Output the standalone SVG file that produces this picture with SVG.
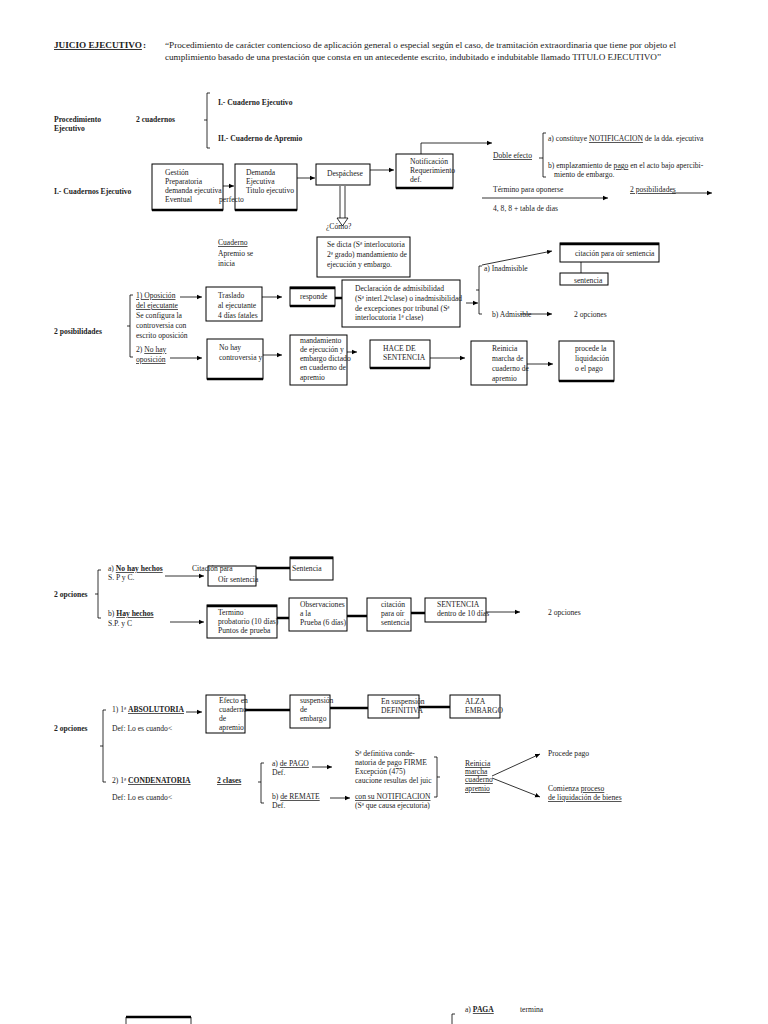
<svg xmlns="http://www.w3.org/2000/svg" width="768" height="1024" viewBox="0 0 768 1024">
<defs>
<marker id="ah" markerWidth="6" markerHeight="6" refX="5" refY="3" orient="auto" markerUnits="userSpaceOnUse"><path d="M0,0.8 L5,3 L0,5.2 z" fill="#000"/></marker>
</defs>
<style>
text{font-family:"Liberation Serif","Times New Roman",serif;font-size:7.6px;fill:#222}
.b{font-weight:bold}
.h{font-size:9.2px}
.u{text-decoration:underline}
.bx{fill:#fff;stroke:#000;stroke-width:1}
.tk{stroke:#000;stroke-width:2.5;fill:none}
.ln{stroke:#000;stroke-width:0.8;fill:none}
.ar{stroke:#000;stroke-width:0.8;fill:none;marker-end:url(#ah)}
</style>
<rect width="768" height="1024" fill="#fff"/>

<g id="header">
<text x="54" y="48" class="b h u">JUICIO EJECUTIVO</text><text x="143" y="48" class="b h">:</text>
<text x="165" y="48" class="h" textLength="511">“Procedimiento de carácter contencioso de aplicación general  o especial según el caso, de tramitación extraordinaria que tiene por objeto el</text>
<text x="165" y="60" class="h" textLength="496">cumplimiento basado de una prestación que consta en un antecedente escrito, indubitado e indubitable llamado TITULO EJECUTIVO”</text>
</g>

<g id="connectors">
<path class="ln" d="M210,93 h-3 v55 h3 M207,120 h-3"/>
<path class="ar" d="M223,186 H234"/>
<path class="ar" d="M297,178 H315"/>
<path class="ar" d="M370,170 H394"/>
<path class="ar" d="M421,154 V143 H492"/>
<path class="ln" d="M546,133 h-3 v44 h3 M543,158 h-4"/>
<path class="ar" d="M482,198 H608"/>
<path class="ar" d="M672,193 H712"/>
<path class="ln" d="M340,186 V219 M345,186 V219"/>
<path d="M337,218 L342.5,226 L348,218 z" fill="#fff" stroke="#000" stroke-width="0.8"/>
<path class="ar" d="M482,265 L552,251"/>
<path class="ln" d="M581,262 V273"/>
<path class="ln" d="M482,266 h-3 v48 h3 M479,290 h-3"/>
<path class="ar" d="M520,314 H552"/>
<path class="ar" d="M466,303 H478"/>
<path class="tk" d="M335,298 H342"/>
<path class="ar" d="M262,297 H282"/>
<path class="ar" d="M180,297 H202"/>
<path class="ln" d="M133,295 h-3 v62 h3 M130,326 h-3"/>
<path class="ar" d="M170,358 H202"/>
<path class="ar" d="M263,355 H282"/>
<path class="ar" d="M347,352 H357"/>
<path class="ar" d="M430,358 H465"/>
<path class="ar" d="M527,364 H553"/>

<path class="ln" d="M101,570 h-3 v48 h3 M98,594 h-3"/>
<path class="ar" d="M165,576 H204"/>
<path class="tk" d="M256,568 H290"/>
<path class="ar" d="M170,622 H204"/>
<path class="tk" d="M277,618 H289 M347,616 H367 M411,613 H425"/>
<path class="ar" d="M486,612 H520"/>

<path class="ln" d="M106,710 h-3 v72 h3 M103,746 h-3"/>
<path class="ar" d="M186,712 H202"/>
<path class="tk" d="M245,710 H290 M330,708 H368 M419,707 H450"/>
<path class="ln" d="M264,763 h-3 v40 h3 M261,782 h-3"/>
<path class="ar" d="M312,767 H332"/>
<path class="ar" d="M330,798 H350"/>
<path class="ln" d="M434,757 h3 v40 h-3 M437,777 h3"/>
<path class="ar" d="M492,776 L540,754"/>
<path class="ar" d="M492,778 L540,797"/>
<path class="ln" d="M455,1014 h-3 v10"/>
</g>

<g id="n-proc">
<text x="54" y="122" class="b">Procedimiento</text><text x="54" y="131" class="b">Ejecutivo</text>
<text x="136" y="122" class="b">2  cuadernos</text>
<text x="218" y="105" class="b">I.- Cuaderno Ejecutivo</text>
<text x="218" y="141" class="b">II.- Cuaderno de Apremio</text>
<text x="54" y="194" class="b">I.- Cuadernos Ejecutivo</text>
</g>

<g id="n-gestion"><rect class="bx" x="152" y="164" width="71" height="46"/><path class="tk" d="M152,210 H223"/>
<text x="165" y="175">Gestión</text><text x="165" y="184">Preparatoria</text><text x="165" y="193">demanda ejecutiva</text><text x="165" y="202">Eventual</text></g>
<g id="n-demanda"><rect class="bx" x="235" y="164" width="62" height="46"/><path class="tk" d="M235,210 H297"/>
<text x="246" y="175">Demanda</text><text x="246" y="184">Ejecutiva</text><text x="246" y="193">Titulo ejecutivo</text><text x="219" y="202">perfecto</text></g>
<g id="n-despachese"><rect class="bx" x="316" y="164" width="54" height="21"/><text x="327" y="176">Despáchese</text></g>
<g id="n-notif"><rect class="bx" x="396" y="154" width="57" height="34"/><path class="tk" d="M396,188 H453"/>
<text x="410" y="164">Notificación</text><text x="410" y="173">Requerimiento</text><text x="410" y="182">def.</text></g>
<g id="n-doble">
<text x="493" y="158" class="u">Doble efecto</text>
<text x="548" y="141">a) constituye <tspan class="u">NOTIFICACION</tspan> de la dda. ejecutiva</text>
<text x="548" y="168">b) emplazamiento de <tspan class="u">pago</tspan> en el acto bajo apercibi-</text>
<text x="554" y="177">miento de embargo.</text>
<text x="493" y="192">Término para oponerse</text>
<text x="630" y="192" class="u">2 posibilidades</text>
<text x="493" y="211">4, 8, 8 +   tabla  de dias</text>
</g>
<g id="n-como"><text x="326" y="229">¿Cómo?</text>
<rect class="bx" x="317" y="237" width="93" height="40"/>
<text x="327" y="247">Se dicta (Sª interlocutoria</text><text x="327" y="257">2ª grado) mandamiento de</text><text x="327" y="267">ejecución y embargo.</text></g>
<g id="n-cuaderno"><text x="218" y="245" class="u">Cuaderno</text><text x="218" y="256">Apremio se</text><text x="218" y="266">inicia</text></g>

<g id="n-citacion"><rect class="bx" x="560" y="243" width="99" height="19"/><path class="tk" d="M560,244 H659"/><text x="575" y="256">citación para oír sentencia</text></g>
<g id="n-sentencia"><rect class="bx" x="560" y="273" width="48" height="12"/><text x="574" y="283">sentencia</text></g>
<g id="n-inadm"><text x="484" y="271">a) Inadmisible</text><text x="492" y="317">b) Admisible</text><text x="574" y="317">2 opciones</text></g>
<g id="n-declar"><rect class="bx" x="342" y="280" width="118" height="47"/>
<text x="355" y="291">Declaración de admisibilidad</text><text x="355" y="301">(Sª interl.2ªclase) o inadmisibilidad</text><text x="355" y="311">de excepciones por tribunal (Sª</text><text x="355" y="320">interlocutoria 1ª clase)</text></g>
<g id="n-responde"><rect class="bx" x="290" y="287" width="45" height="19"/><path class="tk" d="M290,288 H335 M290,306 H335"/><text x="300" y="299">responde</text></g>
<g id="n-traslado"><rect class="bx" x="206" y="287" width="56" height="34"/><text x="218" y="298">Traslado</text><text x="218" y="308">al ejecutante</text><text x="218" y="318">4 días fatales</text></g>
<g id="n-2pos"><text x="54" y="334" class="b">2 posibilidades</text>
<text x="136" y="298" class="u">1) Oposición</text><text x="136" y="308" class="u">del ejecutante</text><text x="136" y="318">Se configura la</text><text x="136" y="328">controversia con</text><text x="136" y="338">escrito oposición</text>
<text x="136" y="352">2) <tspan class="u">No hay</tspan></text><text x="136" y="362" class="u">oposición</text></g>
<g id="n-nohay"><rect class="bx" x="207" y="339" width="56" height="40"/><path class="tk" d="M207,379 H263"/><text x="219" y="350">No hay</text><text x="219" y="360">controversia y</text></g>
<g id="n-mand"><rect class="bx" x="290" y="335" width="57" height="50"/><text x="300" y="343">mandamiento</text><text x="300" y="352">de ejecución y</text><text x="300" y="361">embargo dictado</text><text x="300" y="370">en cuaderno de</text><text x="300" y="380">apremio</text></g>
<g id="n-hace"><rect class="bx" x="370" y="340" width="60" height="28"/><path class="tk" d="M370,368 H430"/><text x="383" y="351">HACE DE</text><text x="383" y="360">SENTENCIA</text></g>
<g id="n-reinicia"><rect class="bx" x="471" y="341" width="56" height="44"/><text x="492" y="351">Reinicia</text><text x="492" y="361">marcha de</text><text x="492" y="371">cuaderno de</text><text x="492" y="381">apremio</text></g>
<g id="n-procede"><rect class="bx" x="559" y="341" width="55" height="40"/><path class="tk" d="M559,381 H614"/><text x="575" y="351">procede la</text><text x="575" y="361">liquidación</text><text x="575" y="371">o el pago</text></g>

<g id="n-s3"><text x="54" y="597" class="b">2 opciones</text>
<text x="108" y="571">a) <tspan class="b u">No hay hechos</tspan></text><text x="108" y="580">S. P y C.</text>
<text x="108" y="616">b) <tspan class="b u">Hay hechos</tspan></text><text x="108" y="626">S.P. y C</text></g>
<g id="n-cit3"><rect class="bx" x="208" y="566" width="48" height="20"/><text x="192" y="571">Citación para</text><text x="218" y="582">Oír sentencia</text></g>
<g id="n-sent3"><rect class="bx" x="290" y="557" width="43" height="23"/><path class="tk" d="M290,558 H333"/><text x="292" y="571">Sentencia</text></g>
<g id="n-term"><rect class="bx" x="207" y="605" width="70" height="33"/><path class="tk" d="M207,606 H277"/><text x="218" y="615">Termino</text><text x="218" y="624">probatorio (10 días)</text><text x="218" y="633">Puntos de prueba</text></g>
<g id="n-obs"><rect class="bx" x="289" y="598" width="58" height="33"/><text x="300" y="607">Observaciones</text><text x="300" y="616">a la</text><text x="300" y="625">Prueba (6 días)</text></g>
<g id="n-cit4"><rect class="bx" x="367" y="598" width="44" height="33"/><text x="381" y="607">citación</text><text x="381" y="616">para oír</text><text x="381" y="625">sentencia</text></g>
<g id="n-sent4"><rect class="bx" x="425" y="598" width="61" height="24"/><text x="437" y="607">SENTENCIA</text><text x="437" y="616">dentro de 10 días</text></g>
<text x="548" y="615">2 opciones</text>

<g id="n-s4"><text x="54" y="731" class="b">2 opciones</text>
<text x="112" y="712">1) 1ª <tspan class="b u">ABSOLUTORIA</tspan></text><text x="112" y="731">Def: Lo es cuando&lt;</text>
<text x="112" y="783">2) 1ª <tspan class="b u">CONDENATORIA</tspan></text><text x="112" y="800">Def: Lo es cuando&lt;</text>
<text x="217" y="783" class="b u">2 clases</text></g>
<g id="n-efecto"><rect class="bx" x="206" y="695" width="39" height="38"/><text x="219" y="703">Efecto en</text><text x="219" y="712">cuaderno</text><text x="219" y="721">de</text><text x="219" y="730">apremio</text></g>
<g id="n-susp"><rect class="bx" x="290" y="695" width="40" height="33"/><text x="300" y="703">suspensión</text><text x="300" y="712">de</text><text x="300" y="721">embargo</text></g>
<g id="n-susp2"><rect class="bx" x="368" y="695" width="51" height="23"/><text x="381" y="704">En suspensión</text><text x="381" y="713">DEFINITIVA</text></g>
<g id="n-alza"><rect class="bx" x="450" y="695" width="50" height="23"/><text x="465" y="704">ALZA</text><text x="465" y="713">EMBARGO</text></g>
<g id="n-clases">
<text x="272" y="766">a) <tspan class="u">de PAGO</tspan></text><text x="272" y="775">Def.</text>
<text x="272" y="799">b) <tspan class="u">de REMATE</tspan></text><text x="272" y="808">Def.</text>
<text x="355" y="756">Sª definitiva conde-</text><text x="355" y="765">natoria de pago FIRME</text><text x="355" y="774">Excepción (475)</text><text x="355" y="783">caucione resultas del juic</text>
<text x="355" y="799" class="u">con su NOTIFICACION</text><text x="355" y="808">(Sª que causa ejecutoria)</text>
<text x="465" y="766" class="u">Reinicia</text><text x="465" y="774" class="u">marcha</text><text x="465" y="782" class="u">cuaderno</text><text x="465" y="791" class="u">apremio</text>
<text x="548" y="756">Procede pago</text>
<text x="548" y="791">Comienza <tspan class="u">proceso</tspan></text><text x="548" y="800" class="u">de liquidación de bienes</text></g>

<g id="n-bottom"><path class="tk" d="M126,1017 H191"/><path class="ln" d="M126,1017 V1024 M191,1017 V1024"/>
<text x="465" y="1012">a) <tspan class="b u">PAGA</tspan></text><text x="520" y="1012">termina</text></g>
</svg>
